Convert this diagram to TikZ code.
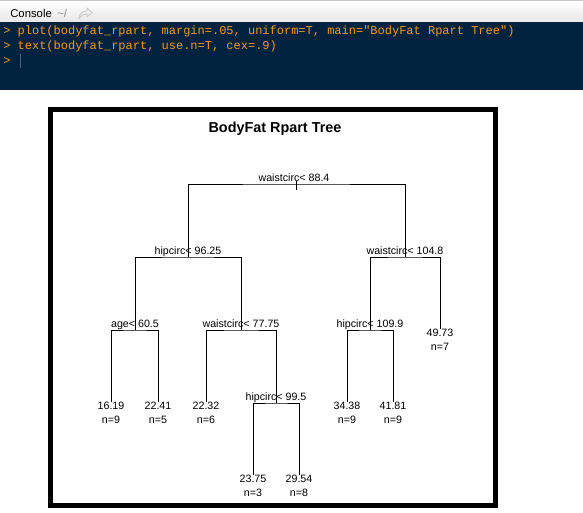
\documentclass[tikz,border=0pt]{standalone}
\usepackage{fontspec}
\setmainfont{Liberation Sans}
\newfontfamily\consolefont{Liberation Mono}[Ligatures=TeXOff]
\usetikzlibrary{positioning}
\definecolor{consolebg}{RGB}{1,35,64}
\definecolor{consoletext}{RGB}{241,155,30}
\definecolor{cursorcolor}{RGB}{70,100,130}
\definecolor{pathgray}{RGB}{135,135,135}

\begin{document}
\begin{tikzpicture}[x=0.75pt, y=-0.75pt,
    splitlabel/.style={anchor=base, inner sep=0pt, font=\fontsize{8}{9.6}\selectfont},
    leaflabel/.style={anchor=north, inner sep=0pt, align=center, font=\fontsize{8}{10.6}\selectfont},
    branch/.style={line width=0.65pt},
    cmdline/.style={anchor=base west, inner sep=0pt, text=consoletext, font=\consolefont\fontsize{9}{10}\selectfont}]
    \useasboundingbox (0,0) rectangle (583,513);
    % console header bar
    \shade[top color=white, bottom color=gray!18] (0,0) rectangle (583,22);
    \draw[gray!45] (0,0.5) -- (583,0.5);
    \node[anchor=west, inner sep=0pt, font=\fontsize{8.5}{10}\selectfont] (console) at (10,13) {Console};
    \node[anchor=west, inner sep=0pt, text=pathgray, font=\fontsize{8.5}{10}\selectfont] (wd) at (57,13) {\textasciitilde/};
    \draw[gray!45, line width=0.6pt, line join=round]
      (79,19) .. controls (79,13) and (83,11) .. (87,11) -- (87,8) -- (92,12.5) -- (87,17) -- (87,14)
      .. controls (83,14) and (81,15.5) .. (79,19) -- cycle;
    % console output
    \fill[consolebg] (0,22) rectangle (583,90);
    \node[cmdline] (cmd1) at (3,35) {> plot(bodyfat\_rpart, margin=.05, uniform=T, main="BodyFat Rpart Tree")};
    \node[cmdline] (cmd2) at (3,50) {> text(bodyfat\_rpart, use.n=T, cex=.9)};
    \node[cmdline] (cmd3) at (3,65) {>};
    \draw[cursorcolor, line width=1.2pt] (20.5,54) -- (20.5,68);
    % plot frame and title
    \draw[line width=4.1pt] (50.75,109.75) rectangle (495.25,505.25);
    \node[font=\bfseries\fontsize{10.8}{12}\selectfont] (title) at (275,129) {BodyFat Rpart Tree};
    % split points
    \coordinate (waist88) at (296,184);
    \coordinate (hip96) at (188,257);
    \coordinate (waist105) at (405,257);
    \coordinate (age60) at (135,330);
    \coordinate (waist78) at (241,330);
    \coordinate (hip110) at (370,330);
    \coordinate (hip99) at (276,403);
    % leaves
    \coordinate (leafA) at (111,402);
    \coordinate (leafB) at (158,402);
    \coordinate (leafC) at (206,402);
    \coordinate (leafD) at (253,475);
    \coordinate (leafE) at (299,475);
    \coordinate (leafF) at (347,402);
    \coordinate (leafG) at (393,402);
    \coordinate (leafH) at (440,329);
    % branches
    \draw[branch] (hip96) |- (waist88) -| (waist105);
    \draw[branch] (age60) |- (hip96) -| (waist78);
    \draw[branch] (hip110) |- (waist105) -| (leafH);
    \draw[branch] (leafA) |- (age60) -| (leafB);
    \draw[branch] (leafC) |- (waist78) -| (hip99);
    \draw[branch] (leafF) |- (hip110) -| (leafG);
    \draw[branch] (leafD) |- (hip99) -| (leafE);
    \coordinate (stubtop) at (296,181);
    \coordinate (stubend) at (296,190);
    \draw[branch] (stubtop) -- (stubend);
    % split labels
    \node[splitlabel] (lab88) at (294,182) {waistcirc< 88.4};
    \node[splitlabel] (lab96) at (188,255) {hipcirc< 96.25};
    \node[splitlabel] (lab105) at (405,255) {waistcirc< 104.8};
    \node[splitlabel] (lab60) at (135,328) {age< 60.5};
    \node[splitlabel] (lab78) at (241,328) {waistcirc< 77.75};
    \node[splitlabel] (lab110) at (370,328) {hipcirc< 109.9};
    \node[splitlabel] (lab99) at (276,401) {hipcirc< 99.5};
    % leaf labels
    \node[leaflabel] (valA) at (leafA) {16.19\\n=9};
    \node[leaflabel] (valB) at (leafB) {22.41\\n=5};
    \node[leaflabel] (valC) at (leafC) {22.32\\n=6};
    \node[leaflabel] (valD) at (leafD) {23.75\\n=3};
    \node[leaflabel] (valE) at (leafE) {29.54\\n=8};
    \node[leaflabel] (valF) at (leafF) {34.38\\n=9};
    \node[leaflabel] (valG) at (leafG) {41.81\\n=9};
    \node[leaflabel] (valH) at (leafH) {49.73\\n=7};
\end{tikzpicture}
\end{document}
